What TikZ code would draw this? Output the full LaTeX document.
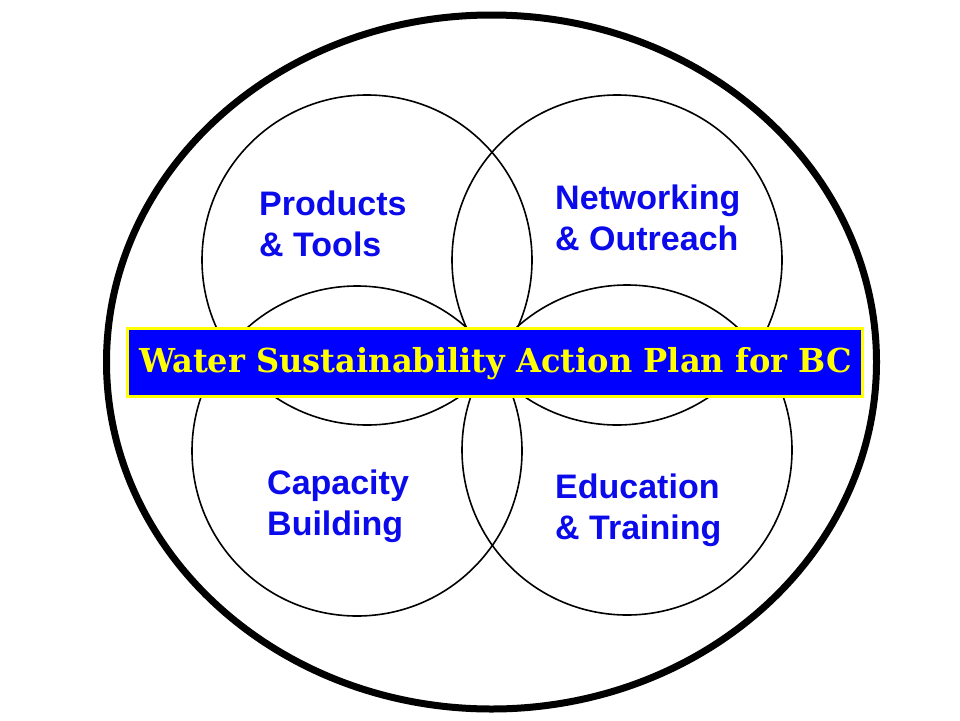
\documentclass[tikz,border=0pt]{standalone}
\usepackage{fontspec}
\usepackage{graphicx}
\setmainfont{Liberation Sans}
\newfontfamily\bannerfont{DejaVu Serif}
\definecolor{lblblue}{RGB}{10,10,235}
\definecolor{banblue}{RGB}{0,0,255}
\definecolor{banyellow}{RGB}{255,255,0}
\tikzset{
  ring/.style={draw=black, line width=7pt},
  petal/.style={draw=black, line width=1.6pt},
  label/.style={font=\fontsize{34}{41}\selectfont\bfseries, text=lblblue, align=left, anchor=base west, inner sep=0pt},
  bannerbox/.style={draw=banyellow, fill=banblue, line width=3pt},
  bannertext/.style={font=\fontsize{33}{36}\selectfont\bannerfont\bfseries, text=banyellow, inner sep=0pt, anchor=base}
}
\begin{document}
\begin{tikzpicture}[x=1pt,y=-1pt]
\useasboundingbox (0,0) rectangle (960,720);
\fill[white] (0,0) rectangle (960,720);
\draw[ring] (491.5,362) ellipse [x radius=385pt, y radius=347pt];
\draw[petal] (367,260) circle [radius=165pt];
\draw[petal] (617,260) circle [radius=165pt];
\draw[petal] (357,451) circle [radius=165pt];
\draw[petal] (627,450) circle [radius=165pt];
\node[label] (pt) at (259,256) {Products\\\& Tools};
\node[label] (no) at (555,250) {Networking\\\& Outreach};
\node[label] (cb) at (267,535) {Capacity\\Building};
\node[label] (et) at (555,539) {Education\\\& Training};
\draw[bannerbox] (127,328) rectangle (862,396);
\node[bannertext] (ban) at (495.5,372) {\resizebox{713pt}{\height}{Water Sustainability Action Plan for BC}};
\end{tikzpicture}
\end{document}
